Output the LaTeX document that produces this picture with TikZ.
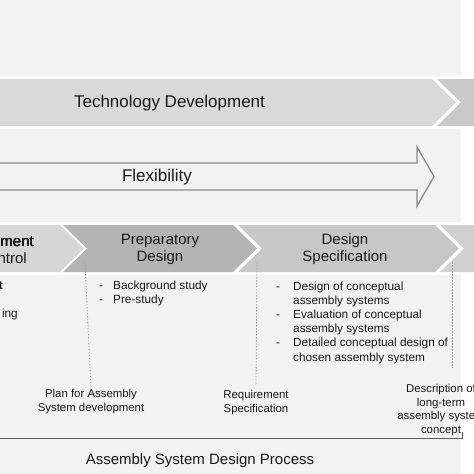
\documentclass[tikz,border=0pt]{standalone}
\usepackage{fontspec}
\setmainfont{Liberation Sans}
\usepackage{tikz}
\usetikzlibrary{positioning,calc}
\definecolor{PanelGray}{RGB}{242,242,242}
\definecolor{BandGray}{RGB}{217,217,217}
\definecolor{BandDark}{RGB}{201,201,201}
\definecolor{PhaseA}{RGB}{214,214,214}
\definecolor{PhaseB}{RGB}{180,180,180}
\definecolor{PhaseC}{RGB}{199,199,199}
\definecolor{PhaseD}{RGB}{209,209,209}
\definecolor{LineGray}{RGB}{140,140,140}
\definecolor{GuideGray}{RGB}{165,165,165}
\definecolor{InkGray}{RGB}{25,25,25}
\tikzset{
	panel/.style={fill=PanelGray},
	bandtext/.style={text=InkGray,inner sep=0pt,font=\fontsize{17}{20}\selectfont},
	phase/.style={text=InkGray,align=center,inner sep=0pt,font=\fontsize{15}{17}\selectfont},
	items/.style={text=InkGray,anchor=north west,inner sep=0pt,font=\fontsize{11.8}{14.2}\selectfont},
	result/.style={text=InkGray,align=center,inner sep=0pt,font=\fontsize{11.4}{13.8}\selectfont},
	guide/.style={draw=GuideGray,line width=0.8pt,dash pattern=on 1.5pt off 1.5pt},
	bracket/.style={draw=black!65,line width=1pt},
}
\newcommand{\chev}[5]{% left, right, top, bottom, colour
	\fill[#5] (#1,#3) -- (#2,#3) -- ($(#2,#3)!0.5!(#2,#4)+(24,0)$) -- (#2,#4) -- (#1,#4)
	-- ($(#1,#3)!0.5!(#1,#4)+(24,0)$) -- cycle;}

\begin{document}
\begin{tikzpicture}[x=1pt,y=-1pt]
	\useasboundingbox (0,0) rectangle (474,474);
	\clip (0,0) rectangle (474,474);
	% background panels
	\fill[panel] (0,0) rectangle (461,76);
	\fill[panel] (0,129) rectangle (461,222);
	\fill[panel] (0,275) rectangle (461,474);
	% technology band
	\chev{-60}{432}{79}{126}{BandGray}
	\chev{437}{620}{79}{126}{BandDark}
	\node[bandtext] (tech) at (169.5,103) {Technology Development};
	% flexibility arrow
	\draw[draw=LineGray,line width=1.4pt,fill=PanelGray,line join=miter]
	(-5,163) -- (417,163) -- (417,147) -- (434,176.5) -- (417,206) -- (417,190) -- (-5,190);
	\node[bandtext] (flex) at (157,177) {Flexibility};
	% phases
	\foreach \l/\r/\col in {-60/60/PhaseA,63/233/PhaseB,238/435/PhaseC,440/620/PhaseD}
	\chev{\l}{\r}{225}{272}{\col}
	\node[phase,anchor=base east] (ctrlA) at (34,246) {ment};
	\node[phase,anchor=base east] (ctrlB) at (27,263) {ntrol};
	\node[phase] (prep) at (160,249.5) {Preparatory\\Design};
	\node[phase] (spec) at (345,249.5) {Design\\Specification};
	% activities
	\node[items,anchor=base east,font=\fontsize{11.8}{14.2}\selectfont\bfseries] (actA) at (3,289) {t};
	\node[items,anchor=base east] (actB) at (18,317) {ing};
	\node[items] (prepact) at (99,279) {\begin{tabular}{@{}p{14pt}@{}l@{}}
		-&Background study\\
		-&Pre-study
	\end{tabular}};
	\node[items] (specact) at (276,280) {\begin{tabular}{@{}p{17pt}@{}l@{}}
		-&Design of conceptual\\
		&assembly systems\\
		-&Evaluation of conceptual\\
		&assembly systems\\
		-&Detailed conceptual design of\\
		&chosen assembly system
	\end{tabular}};
	% deliverables
	\node[result] (plan) at (91,401.5) {Plan for Assembly\\System development};
	\node[result] (req) at (256,402.5) {Requirement\\Specification};
	\node[result] (desc) at (441,410) {Description of\\long-term\\assembly system\\concept};
	\coordinate (g1) at (85,262);
	\coordinate (g2) at (257,262);
	\coordinate (g3) at (452,262);
	\coordinate (g3end) at (452,368);
	\draw[guide] (g1) -- (plan.north);
	\draw[guide] (g2) -- ($(req.north)+(0,-5)$);
	\draw[guide] (g3) -- (g3end);
	% process bracket
	\coordinate (brL) at (-5,438);
	\coordinate (brR) at (462,438);
	\draw[bracket] (brL) -- (brR) -- ++(0,-6);
	\node[phase] (process) at (200,461) {Assembly System Design Process};
\end{tikzpicture}
\end{document}
